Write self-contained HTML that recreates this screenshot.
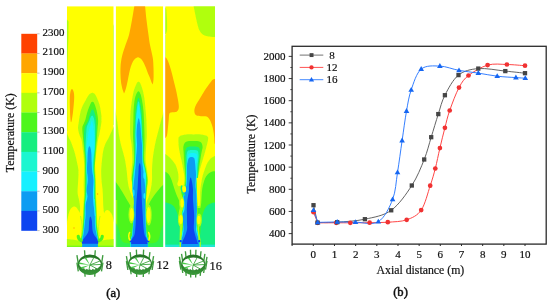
<!DOCTYPE html>
<html lang="en"><head><meta charset="utf-8"><title>Temperature contours and axial temperature profiles</title>
<style>
html,body{margin:0;padding:0;background:#fff;}
body{width:550px;height:304px;overflow:hidden;}
svg{display:block;}
text{font-family:"Liberation Serif",serif;fill:#111;stroke:#111;stroke-width:0.2px;}
.cb{font-size:10.9px;}
.tk{font-size:11px;}
.ax{font-size:11.8px;}
.il{font-size:12.3px;}
.cap{font-size:12.6px;stroke-width:0.45px;}
</style></head><body>
<svg width="550" height="304" viewBox="0 0 550 304">
<defs><clipPath id="c1"><rect x="66.9" y="6.2" width="46.8" height="240.8"/></clipPath><clipPath id="c2"><rect x="115.7" y="6.2" width="47.5" height="240.8"/></clipPath><clipPath id="c3"><rect x="165.2" y="6.2" width="49.8" height="240.8"/></clipPath><linearGradient id="rg" x1="0" y1="0" x2="0" y2="1"><stop offset="0" stop-color="#277427"/><stop offset="0.55" stop-color="#2c7f2c"/><stop offset="1" stop-color="#3a9a3a"/></linearGradient><filter id="b" x="-5%" y="-5%" width="110%" height="110%"><feGaussianBlur stdDeviation="0.65"/></filter><filter id="b2" x="-5%" y="-5%" width="110%" height="110%"><feGaussianBlur stdDeviation="0.3"/></filter></defs>
<rect width="550" height="304" fill="#fff"/>
<g clip-path="url(#c1)" filter="url(#b)"><rect x="66.9" y="6.2" width="46.8" height="240.8" fill="#FFFF00"/><path d="M66.5,19 L68.6,21.5 L68.3,40 L67.6,60 L67.4,131 L66.5,131Z" fill="#B0FF10"/><path d="M114,24 L113.2,26 L113.2,125 L114,125Z" fill="#B0FF10"/><path d="M72,89 C72.55,89 73.33,90.67 73.7,92 C74.07,93.33 74.18,95 74.2,97 C74.22,99 74,101.5 73.8,104 C73.6,106.5 73.3,109.5 73,112 C72.7,114.5 72.33,117.28 72,119 C71.67,120.72 71.28,122.63 71,122.3 C70.72,121.97 70.48,119.38 70.3,117 C70.12,114.62 69.98,111 69.9,108 C69.82,105 69.72,101.67 69.8,99 C69.88,96.33 70.03,93.67 70.4,92 C70.77,90.33 71.45,89 72,89Z" fill="#FFA600"/><path d="M66,130 C66.42,131.17 67.67,135 68.5,137 C69.33,139 70.25,140.25 71,142 C71.75,143.75 72.37,145.67 73,147.5 C73.63,149.33 74.18,150.75 74.8,153 C75.42,155.25 76.1,158.17 76.7,161 C77.3,163.83 78.15,166.83 78.4,170 C78.65,173.17 78.33,176.33 78.2,180 C78.07,183.67 77.53,189 77.6,192 C77.67,195 78.27,196.17 78.6,198 C78.93,199.83 79.35,201.33 79.6,203 C79.85,204.67 80.08,206.4 80.1,208 C80.12,209.6 79.92,212.1 79.7,212.6 C79.48,213.1 79.25,211.73 78.8,211 C78.35,210.27 77.72,208.93 77,208.2 C76.28,207.47 75.33,206.73 74.5,206.6 C73.67,206.47 72.75,206.83 72,207.4 C71.25,207.97 70.57,208.9 70,210 C69.43,211.1 69,212.5 68.6,214 C68.2,215.5 68.03,217 67.6,219 C67.17,221 66.27,224.83 66,226 L60,226 L60,130Z" fill="#B0FF10"/><path d="M115,124 C114.47,125.17 112.83,128.75 111.8,131 C110.77,133.25 109.8,135.5 108.8,137.5 C107.8,139.5 106.7,140.92 105.8,143 C104.9,145.08 104.03,147.17 103.4,150 C102.77,152.83 102.37,156.67 102,160 C101.63,163.33 101.28,166.67 101.2,170 C101.12,173.33 101.27,176.67 101.5,180 C101.73,183.33 102.35,187 102.6,190 C102.85,193 102.9,195.5 103,198 C103.1,200.5 103.1,203 103.2,205 C103.3,207 103.43,208.63 103.6,210 C103.77,211.37 103.97,212.95 104.2,213.2 C104.43,213.45 104.53,212.03 105,211.5 C105.47,210.97 106.27,210.08 107,210 C107.73,209.92 108.67,210.4 109.4,211 C110.13,211.6 110.83,212.6 111.4,213.6 C111.97,214.6 112.43,215.77 112.8,217 C113.17,218.23 113.23,219.5 113.6,221 C113.97,222.5 114.77,225.17 115,226 L120,226 L120,124Z" fill="#B0FF10"/><path d="M60,239 L67,239 L74,239.8 L80,241 L82,242 L98,242 L100,241 L106,239.8 L114,239 L120,239 L120,250 L60,250Z" fill="#B0FF10"/><rect x="60" y="245.6" width="60" height="2" fill="#4EF61E" opacity="0.55"/><path d="M92.5,92.8 C92.15,92.92 91.07,93.06 90.38,93.52 C89.69,93.98 89.13,94.46 88.37,95.54 C87.61,96.62 86.69,98.42 85.8,100 C84.91,101.58 83.8,103.33 83,105 C82.2,106.67 81.55,108.17 81,110 C80.45,111.83 80.07,114 79.7,116 C79.33,118 79.08,120 78.8,122 C78.52,124 77.93,126 78,128 C78.07,130 78.6,132 79.2,134 C79.8,136 81.03,137.67 81.6,140 C82.17,142.33 82.28,145.5 82.6,148 C82.92,150.5 83.23,152.17 83.5,155 C83.77,157.83 84.12,161.67 84.2,165 C84.28,168.33 84.08,171.67 84,175 C83.92,178.33 83.7,181.67 83.7,185 C83.7,188.33 84.05,191.67 84,195 C83.95,198.33 83.57,201.67 83.4,205 C83.23,208.33 83.17,211.67 83,215 C82.83,218.33 82.65,222 82.4,225 C82.15,228 81.82,230.5 81.5,233 C81.18,235.5 80.67,238.83 80.5,240 L99.5,240 C99.32,238.83 98.75,235.5 98.4,233 C98.05,230.5 97.63,228 97.4,225 C97.17,222 97.13,218.33 97,215 C96.87,211.67 96.77,208.33 96.6,205 C96.43,201.67 96.1,198.33 96,195 C95.9,191.67 96.07,188.33 96,185 C95.93,181.67 95.77,178.33 95.6,175 C95.43,171.67 94.93,168.33 95,165 C95.07,161.67 95.68,157.83 96,155 C96.32,152.17 96.57,150.5 96.9,148 C97.23,145.5 97.58,142.33 98,140 C98.42,137.67 98.98,136 99.4,134 C99.82,132 100.17,130 100.5,128 C100.83,126 101.25,124 101.4,122 C101.55,120 101.53,118 101.4,116 C101.27,114 100.9,111.83 100.6,110 C100.3,108.17 100.07,106.67 99.6,105 C99.13,103.33 98.44,101.58 97.8,100 C97.16,98.42 96.37,96.62 95.77,95.54 C95.16,94.46 94.72,93.98 94.18,93.52 C93.63,93.06 92.78,92.92 92.5,92.8Z" fill="#B0FF10"/><path d="M92.5,101.8 C92.37,101.85 91.97,101.92 91.71,102.12 C91.45,102.32 91.24,102.54 90.96,103.02 C90.67,103.5 90.49,103.84 90,105 C89.51,106.16 88.58,108.33 88,110 C87.42,111.67 86.95,113.33 86.5,115 C86.05,116.67 85.78,118.5 85.3,120 C84.82,121.5 84.1,122.67 83.6,124 C83.1,125.33 82.4,125.67 82.3,128 C82.2,130.33 82.72,134.67 83,138 C83.28,141.33 83.7,144.33 84,148 C84.3,151.67 84.63,156.33 84.8,160 C84.97,163.67 84.97,166.67 85,170 C85.03,173.33 85.03,175.83 85,180 C84.97,184.17 84.97,190.83 84.8,195 C84.63,199.17 84.2,201.67 84,205 C83.8,208.33 83.77,211.67 83.6,215 C83.43,218.33 83.27,222 83,225 C82.73,228 82.33,230.5 82,233 C81.67,235.5 81.17,238.83 81,240 L99,240 C98.8,238.83 98.17,235.5 97.8,233 C97.43,230.5 97.03,228 96.8,225 C96.57,222 96.53,218.33 96.4,215 C96.27,211.67 96.17,208.33 96,205 C95.83,201.67 95.53,199.17 95.4,195 C95.27,190.83 95.33,184.17 95.2,180 C95.07,175.83 94.6,173.33 94.6,170 C94.6,166.67 94.97,163.67 95.2,160 C95.43,156.33 95.7,151.67 96,148 C96.3,144.33 96.73,141.33 97,138 C97.27,134.67 97.43,130.33 97.6,128 C97.77,125.67 97.92,125.33 98,124 C98.08,122.67 98.18,121.5 98.1,120 C98.02,118.5 97.77,116.67 97.5,115 C97.23,113.33 96.93,111.67 96.5,110 C96.07,108.33 95.32,106.16 94.9,105 C94.48,103.84 94.25,103.5 93.98,103.02 C93.71,102.54 93.51,102.32 93.26,102.12 C93.01,101.92 92.63,101.85 92.5,101.8Z" fill="#4EF61E"/><path d="M92.5,109.4 C92.39,109.46 92.05,109.53 91.84,109.76 C91.62,109.99 91.44,110.23 91.21,110.77 C90.97,111.31 90.7,112.13 90.4,113 C90.1,113.87 89.73,114.83 89.4,116 C89.07,117.17 88.9,118.67 88.4,120 C87.9,121.33 87.03,122.67 86.4,124 C85.77,125.33 85,125.67 84.6,128 C84.2,130.33 84,134.67 84,138 C84,141.33 84.33,144.33 84.6,148 C84.87,151.67 85.43,156.33 85.6,160 C85.77,163.67 85.57,166.67 85.6,170 C85.63,173.33 85.83,175.83 85.8,180 C85.77,184.17 85.6,190.83 85.4,195 C85.2,199.17 84.8,201.67 84.6,205 C84.4,208.33 84.37,211.67 84.2,215 C84.03,218.33 83.87,222 83.6,225 C83.33,228 82.93,230.5 82.6,233 C82.27,235.5 81.77,238.83 81.6,240 L98.6,240 C98.37,238.83 97.6,235.5 97.2,233 C96.8,230.5 96.43,228 96.2,225 C95.97,222 95.97,218.33 95.8,215 C95.63,211.67 95.37,208.33 95.2,205 C95.03,201.67 94.87,199.17 94.8,195 C94.73,190.83 94.93,184.17 94.8,180 C94.67,175.83 94.07,173.33 94,170 C93.93,166.67 94.17,163.67 94.4,160 C94.63,156.33 95.13,151.67 95.4,148 C95.67,144.33 95.82,141.33 96,138 C96.18,134.67 96.43,130.33 96.5,128 C96.57,125.67 96.47,125.33 96.4,124 C96.33,122.67 96.25,121.33 96.1,120 C95.95,118.67 95.75,117.17 95.5,116 C95.25,114.83 94.88,113.87 94.6,113 C94.32,112.13 94.03,111.31 93.79,110.77 C93.56,110.23 93.38,109.99 93.16,109.76 C92.95,109.53 92.61,109.46 92.5,109.4Z" fill="#14EE80"/><path d="M92.2,115.6 C92.06,115.67 91.64,115.76 91.38,116.04 C91.11,116.32 90.89,116.61 90.6,117.27 C90.3,117.93 90.03,118.88 89.6,120 C89.17,121.12 88.5,122.67 88,124 C87.5,125.33 86.93,125.67 86.6,128 C86.27,130.33 86.17,134.67 86,138 C85.83,141.33 85.55,144.33 85.6,148 C85.65,151.67 86.2,156.33 86.3,160 C86.4,163.67 86.15,166.67 86.2,170 C86.25,173.33 86.63,175.83 86.6,180 C86.57,184.17 86.27,190.83 86,195 C85.73,199.17 85.2,201.67 85,205 C84.8,208.33 84.97,211.67 84.8,215 C84.63,218.33 84.3,222 84,225 C83.7,228 83.33,230.5 83,233 C82.67,235.5 82.17,238.83 82,240 L98.2,240 C97.97,238.83 97.2,235.5 96.8,233 C96.4,230.5 96.03,228 95.8,225 C95.57,222 95.6,218.33 95.4,215 C95.2,211.67 94.8,208.33 94.6,205 C94.4,201.67 94.23,199.17 94.2,195 C94.17,190.83 94.53,184.17 94.4,180 C94.27,175.83 93.53,173.33 93.4,170 C93.27,166.67 93.37,163.67 93.6,160 C93.83,156.33 94.57,151.67 94.8,148 C95.03,144.33 94.97,141.33 95,138 C95.03,134.67 95.03,130.33 95,128 C94.97,125.67 94.92,125.33 94.8,124 C94.68,122.67 94.52,121.12 94.3,120 C94.08,118.88 93.73,117.93 93.49,117.27 C93.26,116.61 93.08,116.32 92.86,116.04 C92.65,115.76 92.31,115.67 92.2,115.6Z" fill="#1CF6D0"/><path d="M92,120.6 C91.94,120.66 91.74,120.72 91.62,120.94 C91.5,121.16 91.4,121.38 91.26,121.89 C91.12,122.4 91.08,122.98 90.8,124 C90.52,125.02 90.03,126.33 89.6,128 C89.17,129.67 88.57,132 88.2,134 C87.83,136 87.68,137.67 87.4,140 C87.12,142.33 86.6,144.67 86.5,148 C86.4,151.33 86.78,156.33 86.8,160 C86.82,163.67 86.53,166.67 86.6,170 C86.67,173.33 87.18,175.83 87.2,180 C87.22,184.17 87.03,190.83 86.7,195 C86.37,199.17 85.45,201.67 85.2,205 C84.95,208.33 85.35,211.67 85.2,215 C85.05,218.33 84.6,222 84.3,225 C84,228 83.73,230.5 83.4,233 C83.07,235.5 82.48,238.83 82.3,240 L98,240 C97.75,238.83 96.93,235.5 96.5,233 C96.07,230.5 95.62,228 95.4,225 C95.18,222 95.4,218.33 95.2,215 C95,211.67 94.45,208.33 94.2,205 C93.95,201.67 93.73,199.17 93.7,195 C93.67,190.83 94.15,184.17 94,180 C93.85,175.83 92.97,173.33 92.8,170 C92.63,166.67 92.73,163.67 93,160 C93.27,156.33 94.15,151.33 94.4,148 C94.65,144.67 94.53,142.33 94.5,140 C94.47,137.67 94.37,136 94.2,134 C94.03,132 93.73,129.67 93.5,128 C93.27,126.33 92.97,125.02 92.8,124 C92.63,122.98 92.58,122.4 92.49,121.89 C92.4,121.38 92.34,121.16 92.25,120.94 C92.17,120.72 92.04,120.66 92,120.6Z" fill="#18F0FF"/><path d="M89.5,146.3 C89.43,146.35 89.22,146.4 89.09,146.57 C88.96,146.74 88.85,146.92 88.7,147.33 C88.55,147.73 88.38,147.89 88.2,149 C88.02,150.11 87.73,152.17 87.6,154 C87.47,155.83 87.5,157.33 87.4,160 C87.3,162.67 86.93,166.67 87,170 C87.07,173.33 87.87,176.67 87.8,180 C87.73,183.33 86.67,187.17 86.6,190 C86.53,192.83 87.57,194.5 87.4,197 C87.23,199.5 85.9,202 85.6,205 C85.3,208 85.77,211.67 85.6,215 C85.43,218.33 84.92,222 84.6,225 C84.28,228 84.05,230.5 83.7,233 C83.35,235.5 82.78,237.17 82.5,240 C82.22,242.83 82.08,248.33 82,250 L98,250 C97.95,248.33 98,242.83 97.7,240 C97.4,237.17 96.65,235.5 96.2,233 C95.75,230.5 95.23,228 95,225 C94.77,222 95.03,218.33 94.8,215 C94.57,211.67 93.9,208 93.6,205 C93.3,202 93.1,199.5 93,197 C92.9,194.5 92.92,192.83 93,190 C93.08,187.17 93.65,183.33 93.5,180 C93.35,176.67 92.42,173.33 92.1,170 C91.78,166.67 91.72,162.67 91.6,160 C91.48,157.33 91.53,155.83 91.4,154 C91.27,152.17 90.98,150.11 90.8,149 C90.62,147.89 90.45,147.73 90.3,147.33 C90.15,146.92 90.04,146.74 89.91,146.57 C89.78,146.4 89.57,146.35 89.5,146.3Z" fill="#109CF2"/><path d="M94.3,199 C94.9,204 94.9,210 95.3,216" stroke="#18F0FF" stroke-width="0.9" fill="none" opacity="0.8"/><path d="M90.3,216.5 C90.24,216.57 90.07,216.66 89.95,216.95 C89.84,217.23 89.75,217.53 89.62,218.21 C89.5,218.89 89.32,219.7 89.2,221 C89.08,222.3 88.98,224.5 88.9,226 C88.82,227.5 88.85,228.92 88.7,230 C88.55,231.08 88.37,231.67 88,232.5 C87.63,233.33 87.07,234.17 86.5,235 C85.93,235.83 85.22,236.67 84.6,237.5 C83.98,238.33 83.23,239.33 82.8,240 C82.37,240.67 82.13,240.87 82,241.5 C81.87,242.13 82,243.42 82,243.8 L98.2,243.8 C98.2,243.42 98.3,242.13 98.2,241.5 C98.1,240.87 97.97,240.67 97.6,240 C97.23,239.33 96.57,238.33 96,237.5 C95.43,236.67 94.68,235.83 94.2,235 C93.72,234.17 93.38,233.33 93.1,232.5 C92.82,231.67 92.65,231.08 92.5,230 C92.35,228.92 92.3,227.5 92.2,226 C92.1,224.5 92.05,222.3 91.9,221 C91.75,219.7 91.47,218.89 91.29,218.21 C91.1,217.53 90.97,217.23 90.81,216.95 C90.64,216.66 90.38,216.57 90.3,216.5Z" fill="#0C44F0"/><circle cx="81.5" cy="241.2" r="1.1" fill="#0C44F0"/><circle cx="99" cy="241.2" r="1.1" fill="#0C44F0"/><path d="M78.2,236.2 Q78.4,239.8 81.3,240.5" stroke="#4EF61E" stroke-width="3.1" stroke-linecap="round" fill="none"/><path d="M102.3,236.2 Q102.1,239.8 99.2,240.5" stroke="#4EF61E" stroke-width="3.1" stroke-linecap="round" fill="none"/><path d="M80.5,216 C82.3,223 82.6,230 81.6,236" stroke="#B0FF10" stroke-width="1" fill="none" opacity="0.9"/><path d="M100,216 C98.4,223 98.2,230 99.2,236" stroke="#B0FF10" stroke-width="1" fill="none" opacity="0.9"/><circle cx="97.6" cy="194" r="0.7" fill="#FFA600"/><circle cx="74" cy="228" r="0.7" fill="#FFA600"/></g>
<g clip-path="url(#c2)" filter="url(#b)"><rect x="115.7" y="6.2" width="47.5" height="240.8" fill="#FFFF00"/><path d="M145,5 C145.25,7.5 145.92,15 146.5,20 C147.08,25 147.92,30.83 148.5,35 C149.08,39.17 149.28,41.17 150,45 C150.72,48.83 152.22,54.17 152.8,58 C153.38,61.83 153.37,64.83 153.5,68 C153.63,71.17 153.65,74.67 153.6,77 C153.55,79.33 153.38,80.73 153.2,82 C153.02,83.27 152.62,84.17 152.5,84.6 L151.4,82 C151.17,81.33 150.57,79.42 150,78 C149.43,76.58 148.67,75.17 148,73.5 C147.33,71.83 146.7,69.75 146,68 C145.3,66.25 144.57,64.45 143.8,63 C143.03,61.55 142.37,60.27 141.4,59.3 C140.43,58.33 139.13,57.2 138,57.2 C136.87,57.2 135.6,58.25 134.6,59.3 C133.6,60.35 132.77,61.8 132,63.5 C131.23,65.2 130.6,67.25 130,69.5 C129.4,71.75 128.9,74.58 128.4,77 C127.9,79.42 127.47,81.92 127,84 C126.53,86.08 126.1,87.9 125.6,89.5 C125.1,91.1 124.27,92.92 124,93.6 L122.4,89 C122.17,87.83 121.32,84.5 121,82 C120.68,79.5 120.57,76.67 120.5,74 C120.43,71.33 120.47,68.33 120.6,66 C120.73,63.67 120.97,62 121.3,60 C121.63,58 121.9,56.5 122.6,54 C123.3,51.5 124.43,48.17 125.5,45 C126.57,41.83 127.92,39.17 129,35 C130.08,30.83 131.08,25 132,20 C132.92,15 134.08,7.5 134.5,5Z" fill="#FFA600"/><path d="M115,108 C115.38,110.33 116.67,117.67 117.3,122 C117.93,126.33 118.22,130.33 118.8,134 C119.38,137.67 120.1,141 120.8,144 C121.5,147 122.3,149.33 123,152 C123.7,154.67 124.4,157 125,160 C125.6,163 126.17,166.67 126.6,170 C127.03,173.33 127.2,177 127.6,180 C128,183 128.35,185.5 129,188 C129.65,190.5 130.58,192.83 131.5,195 C132.42,197.17 133.92,199.17 134.5,201 C135.08,202.83 134.92,205.17 135,206 L135,250 L110,250 L110,108Z" fill="#B0FF10"/><path d="M164,111 C163.5,112.67 161.9,117.83 161,121 C160.1,124.17 159.43,126.83 158.6,130 C157.77,133.17 156.77,136.67 156,140 C155.23,143.33 154.57,146.67 154,150 C153.43,153.33 152.93,156.67 152.6,160 C152.27,163.33 152.1,166.67 152,170 C151.9,173.33 152.2,176.83 152,180 C151.8,183.17 151.37,186.17 150.8,189 C150.23,191.83 149.3,194.83 148.6,197 C147.9,199.17 147.03,200.5 146.6,202 C146.17,203.5 146.1,205.33 146,206 L146,250 L170,250 L170,111Z" fill="#B0FF10"/><path d="M115,181 C115.67,181.92 117.67,184.5 119,186.5 C120.33,188.5 121.67,190.75 123,193 C124.33,195.25 125.75,197.83 127,200 C128.25,202.17 129.67,204 130.5,206 C131.33,208 131.75,211 132,212 L141,212 L141,250 L110,250 L110,181Z" fill="#4EF61E"/><path d="M164,184 C163.33,184.67 161.33,186.5 160,188 C158.67,189.5 157.33,191.25 156,193 C154.67,194.75 153.08,196.83 152,198.5 C150.92,200.17 150.25,201.25 149.5,203 C148.75,204.75 147.83,208 147.5,209 L138,209 L138,250 L170,250 L170,184Z" fill="#4EF61E"/><rect x="115" y="200" width="2.2" height="50" fill="#B0FF10" opacity="0.7"/><path d="M115,222 C115.43,222.67 116.87,224.33 117.6,226 C118.33,227.67 118.9,230 119.4,232 C119.9,234 120,236.33 120.6,238 C121.2,239.67 121.93,241.13 123,242 C124.07,242.87 125.67,243.03 127,243.2 C128.33,243.37 130.33,243.03 131,243 L131,250 L110,250 L110,222Z" fill="#14EE80" opacity="0.5"/><path d="M164,224 C163.58,224.67 162.13,226.5 161.5,228 C160.87,229.5 160.62,231.25 160.2,233 C159.78,234.75 159.62,237 159,238.5 C158.38,240 157.58,241.22 156.5,242 C155.42,242.78 153.92,243.03 152.5,243.2 C151.08,243.37 148.75,243.03 148,243 L148,250 L170,250 L170,224Z" fill="#14EE80" opacity="0.5"/><path d="M138.5,81.8 C138.37,81.85 137.97,81.92 137.71,82.12 C137.45,82.32 137.24,82.54 136.96,83.02 C136.67,83.5 136.49,83.84 136,85 C135.51,86.16 134.52,88.33 134,90 C133.48,91.67 133.23,93.33 132.9,95 C132.57,96.67 132.37,97.5 132,100 C131.63,102.5 131,106.67 130.7,110 C130.4,113.33 130.28,115.83 130.2,120 C130.12,124.17 129.97,130.83 130.2,135 C130.43,139.17 131.23,140.83 131.6,145 C131.97,149.17 132.4,155.83 132.4,160 C132.4,164.17 131.75,166.67 131.6,170 C131.45,173.33 131.1,176.67 131.5,180 C131.9,183.33 133.33,186.67 134,190 C134.67,193.33 135.33,197.33 135.5,200 C135.67,202.67 135.08,205 135,206 L146,206 C146,205 145.83,202.67 146,200 C146.17,197.33 146.67,193.33 147,190 C147.33,186.67 148,183.33 148,180 C148,176.67 147.4,173.33 147,170 C146.6,166.67 145.73,164.17 145.6,160 C145.47,155.83 146,149.17 146.2,145 C146.4,140.83 146.77,139.17 146.8,135 C146.83,130.83 146.6,124.17 146.4,120 C146.2,115.83 145.9,113.33 145.6,110 C145.3,106.67 144.9,102.5 144.6,100 C144.3,97.5 144.12,96.67 143.8,95 C143.48,93.33 143.17,91.67 142.7,90 C142.23,88.33 141.44,86.16 141,85 C140.56,83.84 140.33,83.5 140.04,83.02 C139.76,82.54 139.55,82.32 139.29,82.12 C139.03,81.92 138.63,81.85 138.5,81.8Z" fill="#B0FF10"/><path d="M138.5,91.3 C138.29,91.44 137.67,91.62 137.27,92.17 C136.87,92.72 136.54,93.3 136.1,94.61 C135.65,95.91 135.02,97.43 134.6,100 C134.18,102.57 133.8,106.67 133.6,110 C133.4,113.33 133.5,115.83 133.4,120 C133.3,124.17 132.98,130.83 133,135 C133.02,139.17 133.33,140.83 133.5,145 C133.67,149.17 134.12,155.83 134,160 C133.88,164.17 133.17,166.67 132.8,170 C132.43,173.33 131.6,176.67 131.8,180 C132,183.33 133.38,186.67 134,190 C134.62,193.33 135.5,196.67 135.5,200 C135.5,203.33 134.25,208.33 134,210 L146,210 C146,208.33 145.9,203.33 146,200 C146.1,196.67 146.35,193.33 146.6,190 C146.85,186.67 147.6,183.33 147.5,180 C147.4,176.67 146.55,173.33 146,170 C145.45,166.67 144.45,164.17 144.2,160 C143.95,155.83 144.45,149.17 144.5,145 C144.55,140.83 144.58,139.17 144.5,135 C144.42,130.83 144.18,124.17 144,120 C143.82,115.83 143.73,113.33 143.4,110 C143.07,106.67 142.46,102.57 142,100 C141.54,97.43 141.06,95.91 140.66,94.61 C140.26,93.3 139.97,92.72 139.61,92.17 C139.25,91.62 138.68,91.44 138.5,91.3Z" fill="#4EF61E"/><path d="M138.5,97.8 C138.4,97.9 138.09,98.03 137.9,98.42 C137.7,98.81 137.55,99.23 137.33,100.16 C137.11,101.09 136.89,102.36 136.6,104 C136.31,105.64 135.87,107.33 135.6,110 C135.33,112.67 135.18,115.83 135,120 C134.82,124.17 134.55,130.83 134.5,135 C134.45,139.17 134.68,140.83 134.7,145 C134.72,149.17 134.8,155.83 134.6,160 C134.4,164.17 133.87,166.67 133.5,170 C133.13,173.33 132.57,176.67 132.4,180 C132.23,183.33 132.23,186.67 132.5,190 C132.77,193.33 133.82,196.67 134,200 C134.18,203.33 133.77,205.83 133.6,210 C133.43,214.17 133.27,220.83 133,225 C132.73,229.17 132.4,232.5 132,235 C131.6,237.5 130.85,237.5 130.6,240 C130.35,242.5 130.52,248.33 130.5,250 L148.2,250 C148.17,248.33 148.27,242.5 148,240 C147.73,237.5 146.93,237.5 146.6,235 C146.27,232.5 146.17,229.17 146,225 C145.83,220.83 145.68,214.17 145.6,210 C145.52,205.83 145.47,203.33 145.5,200 C145.53,196.67 145.62,193.33 145.8,190 C145.98,186.67 146.63,183.33 146.6,180 C146.57,176.67 146.13,173.33 145.6,170 C145.07,166.67 143.8,164.17 143.4,160 C143,155.83 143.33,149.17 143.2,145 C143.07,140.83 142.8,139.17 142.6,135 C142.4,130.83 142.2,124.17 142,120 C141.8,115.83 141.67,112.67 141.4,110 C141.13,107.33 140.69,105.64 140.4,104 C140.11,102.36 139.89,101.09 139.67,100.16 C139.45,99.23 139.3,98.81 139.1,98.42 C138.91,98.03 138.6,97.9 138.5,97.8Z" fill="#14EE80"/><path d="M138.5,101.3 C138.42,101.41 138.18,101.55 138.03,101.97 C137.87,102.39 137.75,102.84 137.58,103.85 C137.4,104.85 137.23,106.14 137,108 C136.77,109.86 136.42,112.17 136.2,115 C135.98,117.83 135.85,121.67 135.7,125 C135.55,128.33 135.33,131.67 135.3,135 C135.27,138.33 135.52,140.83 135.5,145 C135.48,149.17 135.45,155.83 135.2,160 C134.95,164.17 134.37,166.67 134,170 C133.63,173.33 133.23,176.67 133,180 C132.77,183.33 132.43,186.67 132.6,190 C132.77,193.33 133.83,196.67 134,200 C134.17,203.33 133.77,205.83 133.6,210 C133.43,214.17 133.27,220.83 133,225 C132.73,229.17 132.4,232.5 132,235 C131.6,237.5 130.85,237.5 130.6,240 C130.35,242.5 130.52,248.33 130.5,250 L148.2,250 C148.17,248.33 148.27,242.5 148,240 C147.73,237.5 146.93,237.5 146.6,235 C146.27,232.5 146.2,229.17 146,225 C145.8,220.83 145.53,214.17 145.4,210 C145.27,205.83 145.2,203.33 145.2,200 C145.2,196.67 145.27,193.33 145.4,190 C145.53,186.67 146.07,183.33 146,180 C145.93,176.67 145.53,173.33 145,170 C144.47,166.67 143.18,164.17 142.8,160 C142.42,155.83 142.85,149.17 142.7,145 C142.55,140.83 142.08,138.33 141.9,135 C141.72,131.67 141.78,128.33 141.6,125 C141.42,121.67 141.07,117.83 140.8,115 C140.53,112.17 140.23,109.86 140,108 C139.77,106.14 139.6,104.85 139.42,103.85 C139.25,102.84 139.13,102.39 138.97,101.97 C138.82,101.55 138.58,101.41 138.5,101.3Z" fill="#1CF6D0"/><path d="M138.5,104.3 C138.44,104.39 138.27,104.51 138.15,104.87 C138.04,105.23 137.95,105.61 137.82,106.47 C137.7,107.32 137.59,108.58 137.4,110 C137.21,111.42 136.9,112.5 136.7,115 C136.5,117.5 136.37,121.67 136.2,125 C136.03,128.33 135.73,131.67 135.7,135 C135.67,138.33 136.03,140.83 136,145 C135.97,149.17 135.73,155.83 135.5,160 C135.27,164.17 134.92,166.67 134.6,170 C134.28,173.33 133.9,176.67 133.6,180 C133.3,183.33 132.7,186.67 132.8,190 C132.9,193.33 134.03,196.67 134.2,200 C134.37,203.33 133.97,205.83 133.8,210 C133.63,214.17 133.47,220.83 133.2,225 C132.93,229.17 132.6,232.5 132.2,235 C131.8,237.5 131.07,237.5 130.8,240 C130.53,242.5 130.63,248.33 130.6,250 L148,250 C147.97,248.33 148.07,242.5 147.8,240 C147.53,237.5 146.73,237.5 146.4,235 C146.07,232.5 146,229.17 145.8,225 C145.6,220.83 145.33,214.17 145.2,210 C145.07,205.83 145,203.33 145,200 C145,196.67 145.1,193.33 145.2,190 C145.3,186.67 145.7,183.33 145.6,180 C145.5,176.67 145.12,173.33 144.6,170 C144.08,166.67 142.87,164.17 142.5,160 C142.13,155.83 142.55,149.17 142.4,145 C142.25,140.83 141.8,138.33 141.6,135 C141.4,131.67 141.4,128.33 141.2,125 C141,121.67 140.65,117.5 140.4,115 C140.15,112.5 139.89,111.42 139.7,110 C139.51,108.58 139.38,107.32 139.24,106.47 C139.1,105.61 139,105.23 138.88,104.87 C138.76,104.51 138.56,104.39 138.5,104.3Z" fill="#18F0FF"/><path d="M138.6,118.3 C138.55,118.36 138.39,118.44 138.28,118.67 C138.18,118.9 138.1,119.15 137.98,119.71 C137.87,120.26 137.76,120.95 137.6,122 C137.44,123.05 137.18,123.83 137,126 C136.82,128.17 136.5,131.83 136.5,135 C136.5,138.17 137.03,141.67 137,145 C136.97,148.33 136.53,151.67 136.3,155 C136.07,158.33 135.87,161.67 135.6,165 C135.33,168.33 135.05,171.67 134.7,175 C134.35,178.33 133.8,182.17 133.5,185 C133.2,187.83 132.85,189.5 132.9,192 C132.95,194.5 133.65,197 133.8,200 C133.95,203 133.83,206.67 133.8,210 C133.77,213.33 133.73,216.67 133.6,220 C133.47,223.33 133.2,227.33 133,230 C132.8,232.67 132.73,234.33 132.4,236 C132.07,237.67 131.23,237.67 131,240 C130.77,242.33 131,248.33 131,250 L148,250 C147.93,248.33 147.9,242.33 147.6,240 C147.3,237.67 146.5,237.67 146.2,236 C145.9,234.33 145.93,232.67 145.8,230 C145.67,227.33 145.52,223.33 145.4,220 C145.28,216.67 145.13,213.33 145.1,210 C145.07,206.67 145.15,203 145.2,200 C145.25,197 145.43,194.5 145.4,192 C145.37,189.5 145.25,187.83 145,185 C144.75,182.17 144.3,178.33 143.9,175 C143.5,171.67 142.92,168.33 142.6,165 C142.28,161.67 142.1,158.33 142,155 C141.9,151.67 142.15,148.33 142,145 C141.85,141.67 141.35,138.17 141.1,135 C140.85,131.83 140.72,128.17 140.5,126 C140.28,123.83 139.99,123.05 139.8,122 C139.61,120.95 139.48,120.26 139.34,119.71 C139.2,119.15 139.1,118.9 138.98,118.67 C138.86,118.44 138.66,118.36 138.6,118.3Z" fill="#109CF2"/><ellipse cx="144.6" cy="175.5" rx="1.3" ry="3.6" fill="#18F0FF"/><ellipse cx="144.4" cy="196" rx="0.9" ry="3" fill="#18F0FF"/><ellipse cx="133.6" cy="193" rx="0.9" ry="3.4" fill="#18F0FF" opacity="0.9"/><path d="M139.8,163 C139.74,163.07 139.57,163.15 139.45,163.4 C139.34,163.65 139.25,163.92 139.12,164.52 C139,165.12 138.8,165.75 138.7,167 C138.6,168.25 138.62,169.83 138.5,172 C138.38,174.17 138.15,177.33 138,180 C137.85,182.67 137.77,185.5 137.6,188 C137.43,190.5 137.23,192.17 137,195 C136.77,197.83 136.37,201.67 136.2,205 C136.03,208.33 136.1,211.67 136,215 C135.9,218.33 135.77,222.17 135.6,225 C135.43,227.83 135.27,230.17 135,232 C134.73,233.83 134.43,234.92 134,236 C133.57,237.08 132.83,237.75 132.4,238.5 C131.97,239.25 131.6,239.58 131.4,240.5 C131.2,241.42 131.23,243.42 131.2,244 L147.5,244 C147.42,243.42 147.2,241.42 147,240.5 C146.8,239.58 146.63,239.25 146.3,238.5 C145.97,237.75 145.38,237.08 145,236 C144.62,234.92 144.28,233.83 144,232 C143.72,230.17 143.52,227.83 143.3,225 C143.08,222.17 142.9,218.33 142.7,215 C142.5,211.67 142.28,208.33 142.1,205 C141.92,201.67 141.75,197.83 141.6,195 C141.45,192.17 141.3,190.5 141.2,188 C141.1,185.5 141.05,182.67 141,180 C140.95,177.33 140.95,174.17 140.9,172 C140.85,169.83 140.79,168.25 140.7,167 C140.61,165.75 140.46,165.12 140.35,164.52 C140.25,163.92 140.18,163.65 140.08,163.4 C139.99,163.15 139.85,163.07 139.8,163Z" fill="#0C44F0"/><circle cx="130.8" cy="241.2" r="1.1" fill="#0C44F0"/><circle cx="148.2" cy="241.2" r="1.1" fill="#0C44F0"/><ellipse cx="131.4" cy="214.5" rx="2.9" ry="9" fill="#B0FF10"/><ellipse cx="148.8" cy="215" rx="2.9" ry="10.5" fill="#B0FF10"/><ellipse cx="131.6" cy="214.5" rx="1.9" ry="6.6" fill="#FFFF00"/><ellipse cx="148.6" cy="215" rx="1.9" ry="8" fill="#FFFF00"/><path d="M129.6,232.5 C128.3,235 128.6,238 130,240.2" stroke="#FFFF00" stroke-width="1.5" stroke-linecap="round" fill="none"/><path d="M148.7,232.5 C150,235 149.9,238 148.9,240.2" stroke="#FFFF00" stroke-width="1.5" stroke-linecap="round" fill="none"/></g>
<g clip-path="url(#c3)" filter="url(#b)"><rect x="165.2" y="6.2" width="49.8" height="240.8" fill="#FFFF00"/><path d="M193.4,5 C193.6,6 194.17,8.83 194.6,11 C195.03,13.17 195.5,15.67 196,18 C196.5,20.33 196.97,22.83 197.6,25 C198.23,27.17 198.8,29.33 199.8,31 C200.8,32.67 202.07,34.1 203.6,35 C205.13,35.9 206.93,36.07 209,36.4 C211.07,36.73 214.83,36.9 216,37 L220,37 L220,0 L193.4,0Z" fill="#B0FF10"/><path d="M164.5,7 C164.78,7.33 165.8,7.17 166.2,9 C166.6,10.83 166.75,14.83 166.9,18 C167.05,21.17 167.2,25.5 167.1,28 C167,30.5 166.73,31.83 166.3,33 C165.87,34.17 164.8,34.67 164.5,35Z" fill="#B0FF10"/><rect x="164.5" y="35" width="1.3" height="22" fill="#B0FF10" opacity="0.7"/><path d="M164.5,56.5 C165,57.08 166.42,57.75 167.5,60 C168.58,62.25 170,66.67 171,70 C172,73.33 172.67,76.67 173.5,80 C174.33,83.33 175.25,86.67 176,90 C176.75,93.33 177.53,97.33 178,100 C178.47,102.67 178.73,104.4 178.8,106 C178.87,107.6 178.77,108.63 178.4,109.6 C178.03,110.57 177.4,111.35 176.6,111.8 C175.8,112.25 174.6,112.17 173.6,112.3 C172.6,112.43 171.33,112.28 170.6,112.6 C169.87,112.92 169.52,112.97 169.2,114.2 C168.88,115.43 168.93,117.53 168.7,120 C168.47,122.47 168.12,126.33 167.8,129 C167.48,131.67 167.35,134.42 166.8,136 C166.25,137.58 164.88,138.08 164.5,138.5Z" fill="#FFA600"/><path d="M216,78.8 C215.5,78.93 213.93,78.97 213,79.6 C212.07,80.23 211.23,81.57 210.4,82.6 C209.57,83.63 208.9,84.57 208,85.8 C207.1,87.03 206,88.47 205,90 C204,91.53 203,93.33 202,95 C201,96.67 199.97,98.4 199,100 C198.03,101.6 196.95,103.1 196.2,104.6 C195.45,106.1 194.77,107.6 194.5,109 C194.23,110.4 194.25,111.9 194.6,113 C194.95,114.1 195.53,115.07 196.6,115.6 C197.67,116.13 199.33,116.05 201,116.2 C202.67,116.35 205.17,115.95 206.6,116.5 C208.03,117.05 208.73,118.15 209.6,119.5 C210.47,120.85 211.18,122.77 211.8,124.6 C212.42,126.43 212.9,128.43 213.3,130.5 C213.7,132.57 213.98,134.83 214.2,137 C214.42,139.17 214.3,142.33 214.6,143.5 C214.9,144.67 215.77,143.92 216,144Z" fill="#FFA600"/><path d="M164.5,153.5 C165.08,153.92 166.75,154.92 168,156 C169.25,157.08 170.77,158.57 172,160 C173.23,161.43 174.5,162.93 175.4,164.6 C176.3,166.27 176.9,168.27 177.4,170 C177.9,171.73 178.23,173.33 178.4,175 C178.57,176.67 178.57,178.5 178.4,180 C178.23,181.5 177.37,182.97 177.4,184 C177.43,185.03 178,185.87 178.6,186.2 C179.2,186.53 180.35,185.37 181,186 C181.65,186.63 182.25,189.33 182.5,190 L190,190 L190,250 L160,250 L160,153.5Z" fill="#B0FF10"/><path d="M216,155.5 C215.33,155.85 213.17,156.78 212,157.6 C210.83,158.42 209.93,159.17 209,160.4 C208.07,161.63 207.17,163.3 206.4,165 C205.63,166.7 205.03,168.77 204.4,170.6 C203.77,172.43 203.07,174.27 202.6,176 C202.13,177.73 201.9,179.33 201.6,181 C201.3,182.67 201.03,184.17 200.8,186 C200.57,187.83 200.3,189.67 200.2,192 C200.1,194.33 200.32,197.67 200.2,200 C200.08,202.33 199.62,205 199.5,206 L190,206 L190,250 L220,250 L220,155.5Z" fill="#B0FF10"/><path d="M164.5,171.5 C164.98,171.75 166.52,172.25 167.4,173 C168.28,173.75 169.1,174.83 169.8,176 C170.5,177.17 171.03,178.5 171.6,180 C172.17,181.5 172.67,183.33 173.2,185 C173.73,186.67 174.23,188.33 174.8,190 C175.37,191.67 175.97,193.43 176.6,195 C177.23,196.57 177.97,198.07 178.6,199.4 C179.23,200.73 180,201.73 180.4,203 C180.8,204.27 180.9,206.33 181,207 L190,207 L190,250 L160,250 L160,171.5Z" fill="#4EF61E"/><path d="M216,171 C215.17,171.17 212.4,171.4 211,172 C209.6,172.6 208.6,173.5 207.6,174.6 C206.6,175.7 205.7,177.1 205,178.6 C204.3,180.1 203.87,181.87 203.4,183.6 C202.93,185.33 202.5,186.93 202.2,189 C201.9,191.07 201.77,193.67 201.6,196 C201.43,198.33 201.4,201 201.2,203 C201,205 200.53,207.17 200.4,208 L190,208 L190,250 L220,250 L220,171Z" fill="#4EF61E"/><path d="M164.5,202.6 C165.08,202.67 166.82,202.67 168,203 C169.18,203.33 170.5,203.83 171.6,204.6 C172.7,205.37 173.73,206.37 174.6,207.6 C175.47,208.83 176.17,210.27 176.8,212 C177.43,213.73 177.93,215.67 178.4,218 C178.87,220.33 179.27,223.33 179.6,226 C179.93,228.67 180.2,231.33 180.4,234 C180.6,236.67 180.7,239.33 180.8,242 C180.9,244.67 180.97,248.67 181,250 L160,250 L160,202.4Z" fill="#14EE80"/><path d="M216,202.6 C215.33,202.67 213.23,202.67 212,203 C210.77,203.33 209.67,203.83 208.6,204.6 C207.53,205.37 206.47,206.37 205.6,207.6 C204.73,208.83 204.03,210.27 203.4,212 C202.77,213.73 202.23,215.67 201.8,218 C201.37,220.33 201.07,223.33 200.8,226 C200.53,228.67 200.4,231.33 200.2,234 C200,236.67 199.73,239.33 199.6,242 C199.47,244.67 199.43,248.67 199.4,250 L220,250 L220,202.4Z" fill="#14EE80"/><rect x="160" y="244.6" width="60" height="4" fill="#20E8D0"/><path d="M193.5,134.4 C192.23,134.43 188.18,134.24 185.88,134.55 C183.59,134.86 180.98,135.36 179.73,136.27 C178.48,137.18 178.49,137.71 178.4,140 C178.31,142.29 178.7,146.67 179.2,150 C179.7,153.33 180.72,156.67 181.4,160 C182.08,163.33 182.8,167 183.3,170 C183.8,173 184.38,175.33 184.4,178 C184.42,180.67 184.13,183 183.4,186 C182.67,189 180.57,192.67 180,196 C179.43,199.33 180.23,202.83 180,206 C179.77,209.17 178.63,211.83 178.6,215 C178.57,218.17 179.63,220.83 179.8,225 C179.97,229.17 179.63,235.83 179.6,240 C179.57,244.17 179.6,248.33 179.6,250 L200.6,250 C200.6,248.33 201.17,244.17 200.6,240 C200.03,235.83 197.73,229.17 197.2,225 C196.67,220.83 197.37,218.17 197.4,215 C197.43,211.83 197.47,209.17 197.4,206 C197.33,202.83 197,199.33 197,196 C197,192.67 197.23,189 197.4,186 C197.57,183 197.62,180.67 198,178 C198.38,175.33 198.92,173 199.7,170 C200.48,167 201.72,163.33 202.7,160 C203.68,156.67 204.72,153.33 205.6,150 C206.48,146.67 207.72,142.29 208,140 C208.28,137.71 208.42,137.18 207.27,136.27 C206.12,135.36 203.41,134.86 201.12,134.55 C198.82,134.24 194.77,134.43 193.5,134.4Z" fill="#B0FF10"/><path d="M193.1,140.9 C192.41,140.93 190.32,140.76 188.94,141.05 C187.56,141.34 185.78,141.67 184.84,142.66 C183.9,143.65 183.51,145.44 183.3,147 C183.09,148.56 183.48,149.83 183.6,152 C183.72,154.17 183.8,157 184,160 C184.2,163 184.57,166.67 184.8,170 C185.03,173.33 185.43,177.33 185.4,180 C185.37,182.67 185.27,184 184.6,186 C183.93,188 181.73,190 181.4,192 C181.07,194 182.17,195.67 182.6,198 C183.03,200.33 184.17,203.33 184,206 C183.83,208.67 181.83,210.67 181.6,214 C181.37,217.33 182.67,221.67 182.6,226 C182.53,230.33 181.47,236 181.2,240 C180.93,244 181.03,248.33 181,250 L199.6,250 C199.57,248.33 199.83,244 199.4,240 C198.97,236 197.37,230.33 197,226 C196.63,221.67 197.13,217.33 197.2,214 C197.27,210.67 197.4,208.67 197.4,206 C197.4,203.33 197.27,200.33 197.2,198 C197.13,195.67 197.02,194 197,192 C196.98,190 197,188 197.1,186 C197.2,184 197.32,182.67 197.6,180 C197.88,177.33 198.35,173.33 198.8,170 C199.25,166.67 199.83,163 200.3,160 C200.77,157 201.22,154.17 201.6,152 C201.98,149.83 202.64,148.56 202.6,147 C202.56,145.44 202.25,143.65 201.36,142.66 C200.47,141.67 198.64,141.34 197.26,141.05 C195.88,140.76 193.79,140.93 193.1,140.9Z" fill="#4EF61E"/><path d="M192.8,146.4 C192.29,146.43 190.77,146.31 189.73,146.55 C188.69,146.79 187.31,146.92 186.57,147.83 C185.83,148.74 185.48,150.31 185.3,152 C185.12,153.69 185.47,155.83 185.5,158 C185.53,160.17 185.45,162.17 185.5,165 C185.55,167.83 185.78,171.67 185.8,175 C185.82,178.33 186.07,181.67 185.6,185 C185.13,188.33 183.3,191.67 183,195 C182.7,198.33 183.97,201.67 183.8,205 C183.63,208.33 182.13,211.5 182,215 C181.87,218.5 183.13,221.83 183,226 C182.87,230.17 181.53,236 181.2,240 C180.87,244 181.03,248.33 181,250 L199.4,250 C199.37,248.33 199.67,244 199.2,240 C198.73,236 197,230.17 196.6,226 C196.2,221.83 196.73,218.5 196.8,215 C196.87,211.5 197,208.33 197,205 C197,201.67 196.87,198.33 196.8,195 C196.73,191.67 196.43,188.33 196.6,185 C196.77,181.67 197.48,178.33 197.8,175 C198.12,171.67 198.23,167.83 198.5,165 C198.77,162.17 199.15,160.17 199.4,158 C199.65,155.83 200.06,153.69 200,152 C199.94,150.31 199.72,148.74 199.03,147.83 C198.34,146.92 196.91,146.79 195.87,146.55 C194.83,146.31 193.31,146.43 192.8,146.4Z" fill="#14EE80"/><path d="M192.7,149.9 C192.28,149.93 191.06,149.84 190.2,150.05 C189.34,150.26 188.15,150.26 187.54,151.16 C186.92,152.07 186.66,154.03 186.5,155.5 C186.34,156.97 186.63,157.92 186.6,160 C186.57,162.08 186.35,165.5 186.3,168 C186.25,170.5 186.35,172.17 186.3,175 C186.25,177.83 186.52,181.67 186,185 C185.48,188.33 183.53,191.67 183.2,195 C182.87,198.33 184.17,201.67 184,205 C183.83,208.33 182.33,211.5 182.2,215 C182.07,218.5 183.37,221.83 183.2,226 C183.03,230.17 181.57,236 181.2,240 C180.83,244 181.03,248.33 181,250 L199.4,250 C199.35,248.33 199.58,244 199.1,240 C198.62,236 196.9,230.17 196.5,226 C196.1,221.83 196.63,218.5 196.7,215 C196.77,211.5 196.9,208.33 196.9,205 C196.9,201.67 196.82,198.33 196.7,195 C196.58,191.67 196.12,188.33 196.2,185 C196.28,181.67 197,177.83 197.2,175 C197.4,172.17 197.23,170.5 197.4,168 C197.57,165.5 198,162.08 198.2,160 C198.4,157.92 198.66,156.97 198.6,155.5 C198.54,154.03 198.43,152.07 197.86,151.16 C197.3,150.26 196.06,150.26 195.2,150.05 C194.34,149.84 193.12,149.93 192.7,149.9Z" fill="#1CF6D0"/><path d="M192.5,153 C192.17,153.03 191.21,152.98 190.52,153.15 C189.83,153.32 188.84,153.24 188.36,154.04 C187.87,154.85 187.83,156.51 187.6,158 C187.37,159.49 187.15,161 187,163 C186.85,165 186.77,167.5 186.7,170 C186.63,172.5 186.67,175.5 186.6,178 C186.53,180.5 186.83,182.17 186.3,185 C185.77,187.83 183.75,191.67 183.4,195 C183.05,198.33 184.37,201.67 184.2,205 C184.03,208.33 182.53,211.5 182.4,215 C182.27,218.5 183.6,221.83 183.4,226 C183.2,230.17 181.6,236 181.2,240 C180.8,244 181.03,248.33 181,250 L199.3,250 C199.25,248.33 199.48,244 199,240 C198.52,236 196.8,230.17 196.4,226 C196,221.83 196.53,218.5 196.6,215 C196.67,211.5 196.8,208.33 196.8,205 C196.8,201.67 196.73,198.33 196.6,195 C196.47,191.67 196,187.83 196,185 C196,182.17 196.5,180.5 196.6,178 C196.7,175.5 196.6,172.5 196.6,170 C196.6,167.5 196.48,165 196.6,163 C196.72,161 197.29,159.49 197.3,158 C197.31,156.51 197.11,154.85 196.64,154.04 C196.18,153.24 195.17,153.32 194.48,153.15 C193.79,152.98 192.83,153.03 192.5,153Z" fill="#18F0FF"/><path d="M191.5,156.9 C191.36,156.93 191.15,156.78 190.67,157.05 C190.19,157.32 189.18,157.34 188.6,158.5 C188.03,159.65 187.47,162.25 187.2,164 C186.93,165.75 187.03,167.17 187,169 C186.97,170.83 187.08,172.33 187,175 C186.92,177.67 186.9,182.5 186.5,185 C186.1,187.5 185.08,188.33 184.6,190 C184.12,191.67 183.63,193 183.6,195 C183.57,197 184.27,199.5 184.4,202 C184.53,204.5 184.7,207.83 184.4,210 C184.1,212.17 182.83,213 182.6,215 C182.37,217 182.85,219.5 183,222 C183.15,224.5 183.58,227.67 183.5,230 C183.42,232.33 182.85,234.33 182.5,236 C182.15,237.67 181.65,237.67 181.4,240 C181.15,242.33 181.07,248.33 181,250 L199.2,250 C199.13,248.33 199.07,242.33 198.8,240 C198.53,237.67 198.07,237.67 197.6,236 C197.13,234.33 196.22,232.33 196,230 C195.78,227.67 196.22,224.5 196.3,222 C196.38,219.5 196.4,217 196.5,215 C196.6,213 196.88,212.17 196.9,210 C196.92,207.83 196.68,204.5 196.6,202 C196.52,199.5 196.52,197 196.4,195 C196.28,193 196.05,191.67 195.9,190 C195.75,188.33 195.48,187.5 195.5,185 C195.52,182.5 195.98,177.67 196,175 C196.02,172.33 195.73,170.83 195.6,169 C195.47,167.17 195.4,165.75 195.2,164 C195,162.25 194.87,159.65 194.4,158.5 C193.92,157.34 192.81,157.32 192.33,157.05 C191.85,156.78 191.64,156.93 191.5,156.9Z" fill="#109CF2"/><path d="M181.8,186 C180.6,189 182.4,192.5 184.4,195" stroke="#14EE80" stroke-width="1.6" stroke-linecap="round" fill="none"/><path d="M190.6,177.6 C190.55,177.66 190.39,177.72 190.28,177.94 C190.18,178.16 190.1,178.38 189.98,178.89 C189.87,179.4 189.76,179.98 189.6,181 C189.44,182.02 189.1,183.5 189,185 C188.9,186.5 189.13,188.33 189,190 C188.87,191.67 188.47,193.33 188.2,195 C187.93,196.67 187.6,198.33 187.4,200 C187.2,201.67 187.1,203.33 187,205 C186.9,206.67 186.8,208.17 186.8,210 C186.8,211.83 186.97,214 187,216 C187.03,218 186.97,220 187,222 C187.03,224 187.3,226.33 187.2,228 C187.1,229.67 186.77,230.67 186.4,232 C186.03,233.33 185.47,234.83 185,236 C184.53,237.17 184,238.17 183.6,239 C183.2,239.83 182.87,240.17 182.6,241 C182.33,241.83 182.1,243.5 182,244 L198,244 C197.83,243.5 197.27,241.83 197,241 C196.73,240.17 196.67,239.83 196.4,239 C196.13,238.17 195.73,237.17 195.4,236 C195.07,234.83 194.67,233.33 194.4,232 C194.13,230.67 193.87,229.67 193.8,228 C193.73,226.33 193.93,224 194,222 C194.07,220 194.23,218 194.2,216 C194.17,214 193.93,211.83 193.8,210 C193.67,208.17 193.53,206.67 193.4,205 C193.27,203.33 193.08,201.67 193,200 C192.92,198.33 192.9,196.67 192.9,195 C192.9,193.33 193.07,191.67 193,190 C192.93,188.33 192.7,186.5 192.5,185 C192.3,183.5 191.99,182.02 191.8,181 C191.61,179.98 191.48,179.4 191.34,178.89 C191.2,178.38 191.1,178.16 190.98,177.94 C190.86,177.72 190.66,177.66 190.6,177.6Z" fill="#0C44F0"/><circle cx="180.6" cy="241.2" r="1.1" fill="#0C44F0"/><circle cx="199.2" cy="241.2" r="1.1" fill="#0C44F0"/><ellipse cx="181.6" cy="203" rx="2.5" ry="6.5" fill="#B0FF10"/><ellipse cx="180.5" cy="219.6" rx="2.6" ry="6.8" fill="#B0FF10"/><ellipse cx="199.2" cy="220" rx="2.6" ry="6.6" fill="#B0FF10"/><ellipse cx="184.2" cy="189.3" rx="1.9" ry="3.2" fill="#FFFF00"/><ellipse cx="182" cy="203" rx="1.6" ry="4.6" fill="#FFFF00"/><ellipse cx="180.8" cy="219.6" rx="1.7" ry="4.6" fill="#FFFF00"/><path d="M196.6,178 L200.6,178 L199.6,190 L200,200 L199.4,205.5 L198,205.5 L197.6,200 L197,190Z" fill="#FFFF00"/><ellipse cx="198.8" cy="220" rx="1.7" ry="4.2" fill="#FFFF00"/><path d="M181.2,226 C181.8,231 180.6,236 180.8,240" stroke="#B0FF10" stroke-width="1.1" fill="none"/><path d="M198.6,226 C198,231 199.2,236 199,240" stroke="#B0FF10" stroke-width="1.1" fill="none"/></g>
<g filter="url(#b2)"><rect x="21.3" y="33.8" width="15.9" height="19.88" fill="#FF4200"/><rect x="21.3" y="53.48" width="15.9" height="19.88" fill="#FFA600"/><rect x="21.3" y="73.16" width="15.9" height="19.88" fill="#FFFF00"/><rect x="21.3" y="92.84" width="15.9" height="19.88" fill="#B0FF10"/><rect x="21.3" y="112.52" width="15.9" height="19.88" fill="#4EF61E"/><rect x="21.3" y="132.2" width="15.9" height="19.88" fill="#14EE80"/><rect x="21.3" y="151.88" width="15.9" height="19.88" fill="#1CF6D0"/><rect x="21.3" y="171.56" width="15.9" height="19.88" fill="#18F0FF"/><rect x="21.3" y="191.24" width="15.9" height="19.88" fill="#109CF2"/><rect x="21.3" y="210.92" width="15.9" height="19.88" fill="#0C44F0"/><line x1="37.2" y1="33.8" x2="39.6" y2="33.8" stroke="#9a9a9a" stroke-width="0.6"/><text x="42.6" y="35.8" class="cb">2300</text><line x1="37.2" y1="53.48" x2="39.6" y2="53.48" stroke="#9a9a9a" stroke-width="0.6"/><text x="42.6" y="55.48" class="cb">2100</text><line x1="37.2" y1="73.16" x2="39.6" y2="73.16" stroke="#9a9a9a" stroke-width="0.6"/><text x="42.6" y="75.16" class="cb">1900</text><line x1="37.2" y1="92.84" x2="39.6" y2="92.84" stroke="#9a9a9a" stroke-width="0.6"/><text x="42.6" y="94.84" class="cb">1700</text><line x1="37.2" y1="112.52" x2="39.6" y2="112.52" stroke="#9a9a9a" stroke-width="0.6"/><text x="42.6" y="114.52" class="cb">1500</text><line x1="37.2" y1="132.2" x2="39.6" y2="132.2" stroke="#9a9a9a" stroke-width="0.6"/><text x="42.6" y="134.2" class="cb">1300</text><line x1="37.2" y1="151.88" x2="39.6" y2="151.88" stroke="#9a9a9a" stroke-width="0.6"/><text x="42.6" y="153.88" class="cb">1100</text><line x1="37.2" y1="171.56" x2="39.6" y2="171.56" stroke="#9a9a9a" stroke-width="0.6"/><text x="42.6" y="173.56" class="cb">900</text><line x1="37.2" y1="191.24" x2="39.6" y2="191.24" stroke="#9a9a9a" stroke-width="0.6"/><text x="42.6" y="193.24" class="cb">700</text><line x1="37.2" y1="210.92" x2="39.6" y2="210.92" stroke="#9a9a9a" stroke-width="0.6"/><text x="42.6" y="212.92" class="cb">500</text><line x1="37.2" y1="230.6" x2="39.6" y2="230.6" stroke="#9a9a9a" stroke-width="0.6"/><text x="42.6" y="232.6" class="cb">300</text></g>
<g filter="url(#b2)"><text transform="translate(14.2,132.8) rotate(-90)" text-anchor="middle" class="ax">Temperature (K)</text></g>
<g filter="url(#b2)"><line x1="102.88" y1="262.68" x2="101.49" y2="271.48" stroke="#3d9c3d" stroke-width="1.35"/><line x1="95.28" y1="268.71" x2="94.7" y2="276.71" stroke="#3d9c3d" stroke-width="1.35"/><line x1="84.52" y1="268.71" x2="85.1" y2="276.71" stroke="#3d9c3d" stroke-width="1.35"/><line x1="76.92" y1="262.68" x2="78.31" y2="271.48" stroke="#3d9c3d" stroke-width="1.35"/><line x1="76.92" y1="255.03" x2="78.31" y2="263.83" stroke="#3d9c3d" stroke-width="1.35"/><line x1="84.52" y1="250.23" x2="85.1" y2="258.23" stroke="#3d9c3d" stroke-width="1.35"/><line x1="95.28" y1="250.23" x2="94.7" y2="258.23" stroke="#3d9c3d" stroke-width="1.35"/><line x1="102.88" y1="255.03" x2="101.49" y2="263.83" stroke="#3d9c3d" stroke-width="1.35"/><ellipse cx="89.9" cy="264.7" rx="12.1" ry="10.3" fill="url(#rg)"/><ellipse cx="90" cy="263.75" rx="10.9" ry="6.35" fill="#fff"/><line x1="89.9" y1="265" x2="101.14" y2="264.41" stroke="#3da63d" stroke-width="0.9"/><line x1="89.9" y1="265" x2="97.09" y2="268.9" stroke="#3da63d" stroke-width="0.9"/><line x1="89.9" y1="265" x2="88.88" y2="270.37" stroke="#3da63d" stroke-width="0.9"/><path d="M89.9,265 L80.76,267.26 L81.9,268.66 Z" fill="#48cc48"/><path d="M89.9,265 L78.95,262.19 L78.77,263.98 Z" fill="#48cc48"/><path d="M89.9,265 L86.09,257.34 L84.46,258.1 Z" fill="#48cc48"/><line x1="89.9" y1="265" x2="93.84" y2="257.5" stroke="#3da63d" stroke-width="0.9"/><line x1="89.9" y1="265" x2="100.16" y2="260.95" stroke="#3da63d" stroke-width="0.9"/><path d="M82.8,269.21 l1.1,-1.2 l1.1,1.2z" fill="#2a7a2a"/><path d="M85.8,270.04 l1.1,-1.2 l1.1,1.2z" fill="#2a7a2a"/><path d="M88.8,270.3 l1.1,-1.2 l1.1,1.2z" fill="#2a7a2a"/><path d="M91.8,270.07 l1.1,-1.2 l1.1,1.2z" fill="#2a7a2a"/><path d="M94.8,269.29 l1.1,-1.2 l1.1,1.2z" fill="#2a7a2a"/><text x="105.8" y="269.4" class="il">8</text></g>
<g filter="url(#b2)"><line x1="153.57" y1="261.19" x2="152.12" y2="269.99" stroke="#3d9c3d" stroke-width="1.35"/><line x1="149.93" y1="266.25" x2="148.87" y2="274.25" stroke="#3d9c3d" stroke-width="1.35"/><line x1="143.64" y1="268.95" x2="143.25" y2="276.95" stroke="#3d9c3d" stroke-width="1.35"/><line x1="136.36" y1="268.95" x2="136.75" y2="276.95" stroke="#3d9c3d" stroke-width="1.35"/><line x1="130.07" y1="266.25" x2="131.13" y2="274.25" stroke="#3d9c3d" stroke-width="1.35"/><line x1="126.43" y1="261.19" x2="127.88" y2="269.99" stroke="#3d9c3d" stroke-width="1.35"/><line x1="126.43" y1="256.02" x2="127.88" y2="264.82" stroke="#3d9c3d" stroke-width="1.35"/><line x1="130.07" y1="252.11" x2="131.13" y2="260.11" stroke="#3d9c3d" stroke-width="1.35"/><line x1="136.36" y1="249.63" x2="136.75" y2="257.63" stroke="#3d9c3d" stroke-width="1.35"/><line x1="143.64" y1="249.63" x2="143.25" y2="257.63" stroke="#3d9c3d" stroke-width="1.35"/><line x1="149.93" y1="252.11" x2="148.87" y2="260.11" stroke="#3d9c3d" stroke-width="1.35"/><line x1="153.57" y1="256.02" x2="152.12" y2="264.82" stroke="#3d9c3d" stroke-width="1.35"/><ellipse cx="140" cy="264.5" rx="12.1" ry="10.3" fill="url(#rg)"/><ellipse cx="140.1" cy="263.55" rx="10.9" ry="6.35" fill="#fff"/><line x1="140" y1="264.8" x2="151.24" y2="264.21" stroke="#3da63d" stroke-width="0.9"/><line x1="140" y1="264.8" x2="147.19" y2="268.7" stroke="#3da63d" stroke-width="0.9"/><line x1="140" y1="264.8" x2="138.98" y2="270.17" stroke="#3da63d" stroke-width="0.9"/><path d="M140,264.8 L130.86,267.06 L132,268.46 Z" fill="#48cc48"/><path d="M140,264.8 L129.05,261.99 L128.87,263.78 Z" fill="#48cc48"/><path d="M140,264.8 L136.19,257.14 L134.56,257.9 Z" fill="#48cc48"/><line x1="140" y1="264.8" x2="143.94" y2="257.3" stroke="#3da63d" stroke-width="0.9"/><line x1="140" y1="264.8" x2="150.26" y2="260.75" stroke="#3da63d" stroke-width="0.9"/><path d="M132.9,269.01 l1.1,-1.2 l1.1,1.2z" fill="#2a7a2a"/><path d="M135.9,269.84 l1.1,-1.2 l1.1,1.2z" fill="#2a7a2a"/><path d="M138.9,270.1 l1.1,-1.2 l1.1,1.2z" fill="#2a7a2a"/><path d="M141.9,269.87 l1.1,-1.2 l1.1,1.2z" fill="#2a7a2a"/><path d="M144.9,269.09 l1.1,-1.2 l1.1,1.2z" fill="#2a7a2a"/><text x="156.6" y="269.2" class="il">12</text></g>
<g filter="url(#b2)"><line x1="206.98" y1="260.83" x2="205.51" y2="269.63" stroke="#3d9c3d" stroke-width="1.35"/><line x1="204.88" y1="264.98" x2="203.63" y2="272.98" stroke="#3d9c3d" stroke-width="1.35"/><line x1="201.01" y1="267.85" x2="200.17" y2="275.85" stroke="#3d9c3d" stroke-width="1.35"/><line x1="195.94" y1="269.4" x2="195.65" y2="277.4" stroke="#3d9c3d" stroke-width="1.35"/><line x1="190.46" y1="269.4" x2="190.75" y2="277.4" stroke="#3d9c3d" stroke-width="1.35"/><line x1="185.39" y1="267.85" x2="186.23" y2="275.85" stroke="#3d9c3d" stroke-width="1.35"/><line x1="181.52" y1="264.98" x2="182.77" y2="272.98" stroke="#3d9c3d" stroke-width="1.35"/><line x1="179.42" y1="260.83" x2="180.89" y2="269.63" stroke="#3d9c3d" stroke-width="1.35"/><line x1="179.42" y1="256.93" x2="180.89" y2="265.73" stroke="#3d9c3d" stroke-width="1.35"/><line x1="181.52" y1="253.87" x2="182.77" y2="261.87" stroke="#3d9c3d" stroke-width="1.35"/><line x1="185.39" y1="251.22" x2="186.23" y2="259.22" stroke="#3d9c3d" stroke-width="1.35"/><line x1="190.46" y1="249.78" x2="190.75" y2="257.78" stroke="#3d9c3d" stroke-width="1.35"/><line x1="195.94" y1="249.78" x2="195.65" y2="257.78" stroke="#3d9c3d" stroke-width="1.35"/><line x1="201.01" y1="251.22" x2="200.17" y2="259.22" stroke="#3d9c3d" stroke-width="1.35"/><line x1="204.88" y1="253.87" x2="203.63" y2="261.87" stroke="#3d9c3d" stroke-width="1.35"/><line x1="206.98" y1="256.93" x2="205.51" y2="265.73" stroke="#3d9c3d" stroke-width="1.35"/><ellipse cx="193.2" cy="264.8" rx="12.1" ry="10.3" fill="url(#rg)"/><ellipse cx="193.3" cy="263.85" rx="10.9" ry="6.35" fill="#fff"/><line x1="193.2" y1="265.1" x2="204.44" y2="264.51" stroke="#3da63d" stroke-width="0.9"/><line x1="193.2" y1="265.1" x2="200.39" y2="269" stroke="#3da63d" stroke-width="0.9"/><line x1="193.2" y1="265.1" x2="192.18" y2="270.47" stroke="#3da63d" stroke-width="0.9"/><path d="M193.2,265.1 L184.06,267.36 L185.2,268.76 Z" fill="#48cc48"/><path d="M193.2,265.1 L182.25,262.29 L182.07,264.08 Z" fill="#48cc48"/><path d="M193.2,265.1 L189.39,257.44 L187.76,258.2 Z" fill="#48cc48"/><line x1="193.2" y1="265.1" x2="197.14" y2="257.6" stroke="#3da63d" stroke-width="0.9"/><line x1="193.2" y1="265.1" x2="203.46" y2="261.05" stroke="#3da63d" stroke-width="0.9"/><path d="M186.1,269.31 l1.1,-1.2 l1.1,1.2z" fill="#2a7a2a"/><path d="M189.1,270.14 l1.1,-1.2 l1.1,1.2z" fill="#2a7a2a"/><path d="M192.1,270.4 l1.1,-1.2 l1.1,1.2z" fill="#2a7a2a"/><path d="M195.1,270.17 l1.1,-1.2 l1.1,1.2z" fill="#2a7a2a"/><path d="M198.1,269.39 l1.1,-1.2 l1.1,1.2z" fill="#2a7a2a"/><text x="209.6" y="269.5" class="il">16</text></g>
<g filter="url(#b2)"><rect x="292.1" y="46.3" width="254.1" height="197.8" fill="none" stroke="#2a2a2a" stroke-width="1.3"/><line x1="288.7" y1="233.6" x2="292.1" y2="233.6" stroke="#262626" stroke-width="0.9"/><text x="285.6" y="237.1" text-anchor="end" class="tk">400</text><line x1="288.7" y1="211.45" x2="292.1" y2="211.45" stroke="#262626" stroke-width="0.9"/><text x="285.6" y="214.95" text-anchor="end" class="tk">600</text><line x1="288.7" y1="189.3" x2="292.1" y2="189.3" stroke="#262626" stroke-width="0.9"/><text x="285.6" y="192.8" text-anchor="end" class="tk">800</text><line x1="288.7" y1="167.15" x2="292.1" y2="167.15" stroke="#262626" stroke-width="0.9"/><text x="285.6" y="170.65" text-anchor="end" class="tk">1000</text><line x1="288.7" y1="145" x2="292.1" y2="145" stroke="#262626" stroke-width="0.9"/><text x="285.6" y="148.5" text-anchor="end" class="tk">1200</text><line x1="288.7" y1="122.85" x2="292.1" y2="122.85" stroke="#262626" stroke-width="0.9"/><text x="285.6" y="126.35" text-anchor="end" class="tk">1400</text><line x1="288.7" y1="100.7" x2="292.1" y2="100.7" stroke="#262626" stroke-width="0.9"/><text x="285.6" y="104.2" text-anchor="end" class="tk">1600</text><line x1="288.7" y1="78.55" x2="292.1" y2="78.55" stroke="#262626" stroke-width="0.9"/><text x="285.6" y="82.05" text-anchor="end" class="tk">1800</text><line x1="288.7" y1="56.4" x2="292.1" y2="56.4" stroke="#262626" stroke-width="0.9"/><text x="285.6" y="59.9" text-anchor="end" class="tk">2000</text><line x1="290.3" y1="222.53" x2="292.1" y2="222.53" stroke="#262626" stroke-width="0.8"/><line x1="290.3" y1="200.38" x2="292.1" y2="200.38" stroke="#262626" stroke-width="0.8"/><line x1="290.3" y1="178.22" x2="292.1" y2="178.22" stroke="#262626" stroke-width="0.8"/><line x1="290.3" y1="156.07" x2="292.1" y2="156.07" stroke="#262626" stroke-width="0.8"/><line x1="290.3" y1="133.93" x2="292.1" y2="133.93" stroke="#262626" stroke-width="0.8"/><line x1="290.3" y1="111.78" x2="292.1" y2="111.78" stroke="#262626" stroke-width="0.8"/><line x1="290.3" y1="89.62" x2="292.1" y2="89.62" stroke="#262626" stroke-width="0.8"/><line x1="290.3" y1="67.47" x2="292.1" y2="67.47" stroke="#262626" stroke-width="0.8"/><line x1="313.3" y1="244.1" x2="313.3" y2="246" stroke="#262626" stroke-width="1"/><text x="313.3" y="258.1" text-anchor="middle" class="tk">0</text><line x1="334.47" y1="244.1" x2="334.47" y2="246" stroke="#262626" stroke-width="1"/><text x="334.47" y="258.1" text-anchor="middle" class="tk">1</text><line x1="355.64" y1="244.1" x2="355.64" y2="246" stroke="#262626" stroke-width="1"/><text x="355.64" y="258.1" text-anchor="middle" class="tk">2</text><line x1="376.81" y1="244.1" x2="376.81" y2="246" stroke="#262626" stroke-width="1"/><text x="376.81" y="258.1" text-anchor="middle" class="tk">3</text><line x1="397.98" y1="244.1" x2="397.98" y2="246" stroke="#262626" stroke-width="1"/><text x="397.98" y="258.1" text-anchor="middle" class="tk">4</text><line x1="419.15" y1="244.1" x2="419.15" y2="246" stroke="#262626" stroke-width="1"/><text x="419.15" y="258.1" text-anchor="middle" class="tk">5</text><line x1="440.32" y1="244.1" x2="440.32" y2="246" stroke="#262626" stroke-width="1"/><text x="440.32" y="258.1" text-anchor="middle" class="tk">6</text><line x1="461.49" y1="244.1" x2="461.49" y2="246" stroke="#262626" stroke-width="1"/><text x="461.49" y="258.1" text-anchor="middle" class="tk">7</text><line x1="482.66" y1="244.1" x2="482.66" y2="246" stroke="#262626" stroke-width="1"/><text x="482.66" y="258.1" text-anchor="middle" class="tk">8</text><line x1="503.83" y1="244.1" x2="503.83" y2="246" stroke="#262626" stroke-width="1"/><text x="503.83" y="258.1" text-anchor="middle" class="tk">9</text><line x1="525" y1="244.1" x2="525" y2="246" stroke="#262626" stroke-width="1"/><text x="525" y="258.1" text-anchor="middle" class="tk">10</text><line x1="292.1" y1="244.1" x2="292.1" y2="246" stroke="#262626" stroke-width="1"/><path d="M313.5,205.2 L317.5,222.6 C320.78,222.53 329.3,222.77 337.2,222.2 C345.1,221.63 355.9,221.18 364.9,219.2 C373.9,217.22 383.38,215.92 391.2,210.3 C399.02,204.68 406.3,193.97 411.8,185.5 C417.3,177.03 420.97,167.55 424.2,159.5 C427.43,151.45 428.85,144.77 431.2,137.2 C433.55,129.63 436.02,121.1 438.3,114.1 C440.58,107.1 441.53,101.7 444.9,95.2 C448.27,88.7 452.93,79.53 458.5,75.1 C464.07,70.67 470.5,69.27 478.3,68.6 C486.1,67.93 497.52,70.33 505.3,71.1 C513.08,71.87 521.72,72.85 525,73.2" fill="none" stroke="#5c5c5c" stroke-width="0.95"/><path d="M313.5,212.2 L317.7,222.8 C320.78,222.8 330.77,222.8 336.2,222.8 C341.63,222.8 344.73,222.82 350.3,222.8 C355.87,222.78 363.35,222.8 369.6,222.7 C375.85,222.6 381.62,222.68 387.8,222.2 C393.98,221.72 401.13,221.82 406.7,219.8 C412.27,217.78 417.28,215.78 421.2,210.1 C425.12,204.42 427.85,192.63 430.2,185.7 C432.55,178.77 433.68,174.77 435.3,168.5 C436.92,162.23 438.3,154.88 439.9,148.1 C441.5,141.32 443.27,134.07 444.9,127.8 C446.53,121.53 447.35,117.2 449.7,110.5 C452.05,103.8 455.87,93.43 459,87.6 C462.13,81.77 463.73,79.25 468.5,75.5 C473.27,71.75 481.2,66.93 487.6,65.1 C494,63.27 500.67,64.4 506.9,64.5 C513.13,64.6 521.98,65.5 525,65.7" fill="none" stroke="#ff3c3c" stroke-width="0.95"/><path d="M313.5,210.2 L317.7,222.4 C320.95,222.33 330.9,222.03 337.2,222 C343.5,221.97 348.65,222.25 355.5,222.2 C362.35,222.15 372.12,225.48 378.3,221.7 C384.48,217.92 389.4,207.7 392.6,199.5 C395.8,191.3 395.92,182.32 397.5,172.5 C399.08,162.68 400.6,150.83 402.1,140.6 C403.6,130.37 404.98,119.55 406.5,111.1 C408.02,102.65 408.75,96.9 411.2,89.9 C413.65,82.9 416.42,73.07 421.2,69.1 C425.98,65.13 433.6,65.88 439.9,66.1 C446.2,66.32 452.6,69.23 459,70.4 C465.4,71.57 471.93,72.13 478.3,73.1 C484.67,74.07 490.93,75.45 497.2,76.2 C503.47,76.95 511.22,77.27 515.9,77.6 C520.58,77.93 523.73,78.1 525.3,78.2" fill="none" stroke="#2a78ff" stroke-width="0.95"/><circle cx="313.5" cy="212.2" r="2.35" fill="#f03030"/><circle cx="317.7" cy="222.8" r="2.35" fill="#f03030"/><circle cx="336.2" cy="222.8" r="2.35" fill="#f03030"/><circle cx="350.3" cy="222.8" r="2.35" fill="#f03030"/><circle cx="369.6" cy="222.7" r="2.35" fill="#f03030"/><circle cx="387.8" cy="222.2" r="2.35" fill="#f03030"/><circle cx="406.7" cy="219.8" r="2.35" fill="#f03030"/><circle cx="421.2" cy="210.1" r="2.35" fill="#f03030"/><circle cx="430.2" cy="185.7" r="2.35" fill="#f03030"/><circle cx="435.3" cy="168.5" r="2.35" fill="#f03030"/><circle cx="439.9" cy="148.1" r="2.35" fill="#f03030"/><circle cx="444.9" cy="127.8" r="2.35" fill="#f03030"/><circle cx="449.7" cy="110.5" r="2.35" fill="#f03030"/><circle cx="459" cy="87.6" r="2.35" fill="#f03030"/><circle cx="468.5" cy="75.5" r="2.35" fill="#f03030"/><circle cx="487.6" cy="65.1" r="2.35" fill="#f03030"/><circle cx="506.9" cy="64.5" r="2.35" fill="#f03030"/><circle cx="525" cy="65.7" r="2.35" fill="#f03030"/><rect x="311.35" y="203.05" width="4.3" height="4.3" fill="#454545"/><rect x="315.35" y="220.45" width="4.3" height="4.3" fill="#454545"/><rect x="335.05" y="220.05" width="4.3" height="4.3" fill="#454545"/><rect x="362.75" y="217.05" width="4.3" height="4.3" fill="#454545"/><rect x="389.05" y="208.15" width="4.3" height="4.3" fill="#454545"/><rect x="409.65" y="183.35" width="4.3" height="4.3" fill="#454545"/><rect x="422.05" y="157.35" width="4.3" height="4.3" fill="#454545"/><rect x="429.05" y="135.05" width="4.3" height="4.3" fill="#454545"/><rect x="436.15" y="111.95" width="4.3" height="4.3" fill="#454545"/><rect x="442.75" y="93.05" width="4.3" height="4.3" fill="#454545"/><rect x="456.35" y="72.95" width="4.3" height="4.3" fill="#454545"/><rect x="476.15" y="66.45" width="4.3" height="4.3" fill="#454545"/><rect x="503.15" y="68.95" width="4.3" height="4.3" fill="#454545"/><rect x="522.85" y="71.05" width="4.3" height="4.3" fill="#454545"/><path d="M313.5,207.2 L316.3,212 L310.7,212 Z" fill="#1466f2"/><path d="M317.7,219.4 L320.5,224.2 L314.9,224.2 Z" fill="#1466f2"/><path d="M337.2,219 L340,223.8 L334.4,223.8 Z" fill="#1466f2"/><path d="M355.5,219.2 L358.3,224 L352.7,224 Z" fill="#1466f2"/><path d="M378.3,218.7 L381.1,223.5 L375.5,223.5 Z" fill="#1466f2"/><path d="M392.6,196.5 L395.4,201.3 L389.8,201.3 Z" fill="#1466f2"/><path d="M397.5,169.5 L400.3,174.3 L394.7,174.3 Z" fill="#1466f2"/><path d="M402.1,137.6 L404.9,142.4 L399.3,142.4 Z" fill="#1466f2"/><path d="M406.5,108.1 L409.3,112.9 L403.7,112.9 Z" fill="#1466f2"/><path d="M411.2,86.9 L414,91.7 L408.4,91.7 Z" fill="#1466f2"/><path d="M421.2,66.1 L424,70.9 L418.4,70.9 Z" fill="#1466f2"/><path d="M439.9,63.1 L442.7,67.9 L437.1,67.9 Z" fill="#1466f2"/><path d="M459,67.4 L461.8,72.2 L456.2,72.2 Z" fill="#1466f2"/><path d="M478.3,70.1 L481.1,74.9 L475.5,74.9 Z" fill="#1466f2"/><path d="M497.2,73.2 L500,78 L494.4,78 Z" fill="#1466f2"/><path d="M515.9,74.6 L518.7,79.4 L513.1,79.4 Z" fill="#1466f2"/><path d="M525.3,75.2 L528.1,80 L522.5,80 Z" fill="#1466f2"/><line x1="299.7" y1="55.1" x2="323.3" y2="55.1" stroke="#6a6a6a" stroke-width="0.95"/><rect x="309.6" y="53.15" width="3.9" height="3.9" fill="#454545"/><text x="329.2" y="58.7" class="tk">8</text><line x1="299.7" y1="67.4" x2="323.3" y2="67.4" stroke="#ff4a4a" stroke-width="0.95"/><circle cx="311.5" cy="67.4" r="2.15" fill="#f03030"/><text x="326.6" y="71" class="tk">12</text><line x1="299.7" y1="79.7" x2="323.3" y2="79.7" stroke="#3a84ff" stroke-width="0.95"/><path d="M311.5,77 L314.1,81.4 L308.9,81.4 Z" fill="#1466f2"/><text x="326.6" y="83.3" class="tk">16</text><text x="420.4" y="273.6" text-anchor="middle" class="ax">Axial distance (m)</text><text transform="translate(255.2,154) rotate(-90)" text-anchor="middle" class="ax">Temperature (K)</text></g>
<g filter="url(#b2)"><text x="113.3" y="296.6" text-anchor="middle" class="cap">(a)</text><text x="400.5" y="296.4" text-anchor="middle" class="cap">(b)</text></g>
</svg>
</body></html>
